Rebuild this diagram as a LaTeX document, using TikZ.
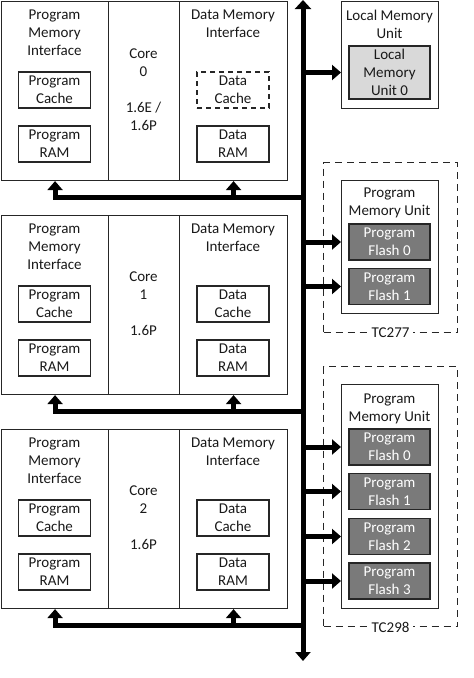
\documentclass[tikz,border=0pt]{standalone}
\usepackage{fontspec}
\setmainfont{Carlito}
\usetikzlibrary{arrows.meta,positioning}

\tikzset{
  txt/.style={font=\fontsize{15}{18}\selectfont, text=black!90, align=center, inner sep=0pt},
  box/.style={draw=black!85, line width=1.1pt, inner sep=0pt},
  membox/.style={box, txt, minimum width=72pt, minimum height=36pt},
  flash/.style={membox, fill=black!52, text=white, minimum width=81pt},
  cachedash/.style={dash pattern=on 5pt off 4pt},
  tcbox/.style={draw=black!85, line width=1.1pt, dash pattern=on 7pt off 5pt, minimum width=134pt},
  bus/.style={line width=5pt},
  busarrow/.style={bus, -{Triangle[length=9pt,width=15pt]}},
}

\begin{document}
\begin{tikzpicture}[x=1pt,y=-1pt]
\useasboundingbox (0,0) rectangle (474,678);
% Main bus
\coordinate (bustop) at (303,0);
\coordinate (busbot) at (303,661);
\draw[bus, {Triangle[length=9pt,width=15pt]}-{Triangle[length=9pt,width=16pt]}] (busbot) -- (bustop);
% Cores with their memory interfaces
\foreach \i/\y/\spec/\dc in {0/1/{1.6E /\\1.6P}/cachedash, 1/215/1.6P/solid, 2/429/1.6P/solid}{
  \node[box, minimum width=107pt, minimum height=179pt, anchor=north west] (pmi\i) at (1,\y) {};
  \node[box, minimum width=71pt, minimum height=179pt, anchor=north west] (cpu\i) at (108,\y) {};
  \node[box, minimum width=108pt, minimum height=179pt, anchor=north west] (dmi\i) at (179,\y) {};
  \node[txt] (pmil\i) at (54.5,\y+32) {Program\\Memory\\Interface};
  \node[txt] (dmil\i) at (233,\y+23) {Data Memory\\Interface};
  \node[txt] (core\i) at (143.5,\y+89) {Core\\\i\\[18pt]\spec};
  \node[membox] (pc\i) at (54.5,\y+89) {Program\\Cache};
  \node[membox] (pr\i) at (54.5,\y+143) {Program\\RAM};
  \node[membox,\dc] (dc\i) at (233,\y+89) {Data\\Cache};
  \node[membox] (dr\i) at (233,\y+143) {Data\\RAM};
  % bus to the core
  \coordinate (b\i) at (303,\y+196);
  \draw[busarrow] (b\i) -| (pmi\i.south);
  \draw[busarrow] (b\i -| dmi\i.south) -- (dmi\i.south);
}
% Local memory unit
\node[box, minimum width=97pt, minimum height=107pt, anchor=north west] (lmu) at (341,1) {};
\node[txt] (lmul) at (389.5,24) {Local Memory\\Unit};
\node[membox, fill=black!15, minimum width=81pt, minimum height=53pt] (lmu0) at (389.5,72.5) {Local\\Memory\\Unit 0};
\draw[busarrow] (lmu0 -| bustop) -- (lmu0 -| lmu.west);
% TC277 program memory
\node[tcbox, minimum height=170pt, anchor=north west] (tc277) at (323,162) {};
\node[box, minimum width=97pt, minimum height=133pt, anchor=north west] (pmu277) at (341,180) {};
\node[txt] (pmul277) at (389.5,203) {Program\\Memory Unit};
\foreach \j/\y in {0/242, 1/286.5}{
  \node[flash] (fa\j) at (389.5,\y) {Program\\Flash \j};
  \draw[busarrow] (fa\j -| bustop) -- (fa\j -| pmu277.west);
}
\node[txt, fill=white, inner xsep=4pt, inner ysep=1pt] (tcl277) at (tc277.south) {TC277};
% TC298 program memory
\node[tcbox, minimum height=260pt, anchor=north west] (tc298) at (323,366) {};
\node[box, minimum width=97pt, minimum height=224pt, anchor=north west] (pmu298) at (341,384) {};
\node[txt] (pmul298) at (389.5,409) {Program\\Memory Unit};
\foreach \j/\y in {0/447, 1/491.5, 2/536.5, 3/581}{
  \node[flash] (fb\j) at (389.5,\y) {Program\\Flash \j};
  \draw[busarrow] (fb\j -| bustop) -- (fb\j -| pmu298.west);
}
\node[txt, fill=white, inner xsep=4pt, inner ysep=1pt] (tcl298) at (tc298.south) {TC298};
\end{tikzpicture}
\end{document}
